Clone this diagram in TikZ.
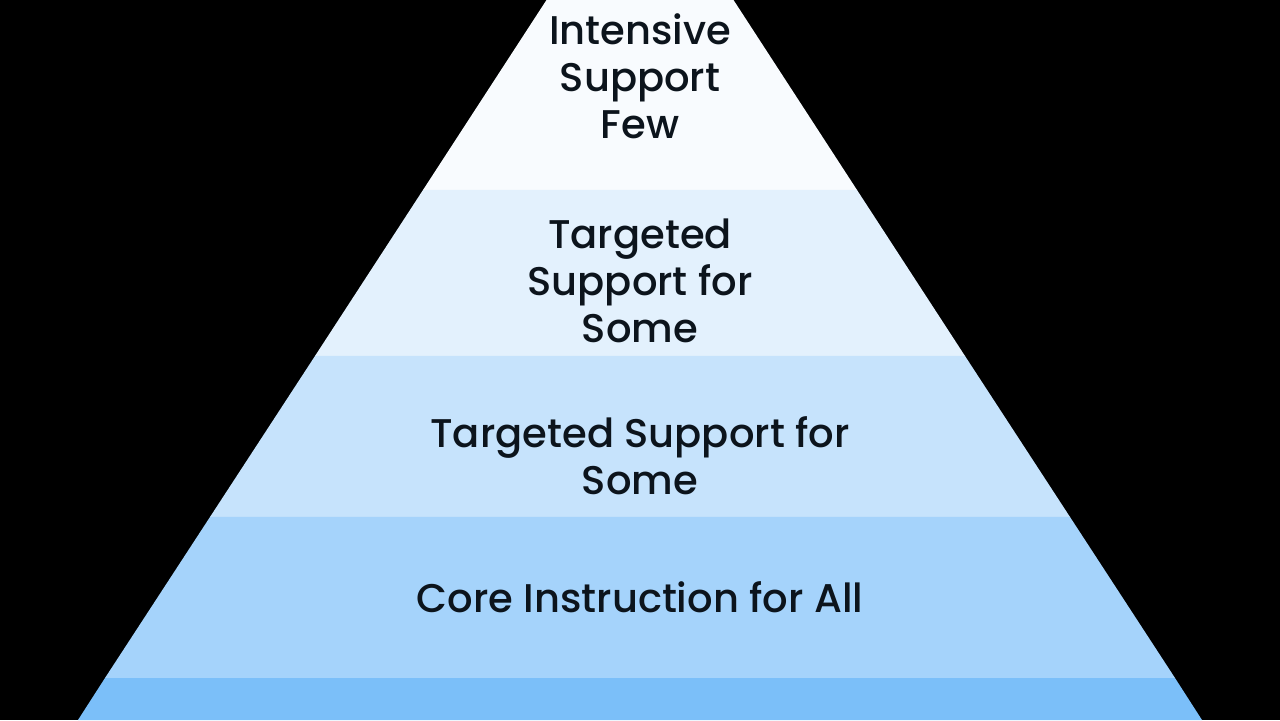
\documentclass[tikz,border=0pt]{standalone}
\usepackage{xcolor}
\usepackage{fontspec}
\setmainfont{Poppins Medium}
\definecolor{tierone}{HTML}{F8FBFE}
\definecolor{tiertwo}{HTML}{E3F1FD}
\definecolor{tierthree}{HTML}{C6E3FC}
\definecolor{tierfour}{HTML}{A5D3FB}
\definecolor{tierfive}{HTML}{7BBFF9}
\definecolor{tiertext}{HTML}{0C141C}
\tikzstyle{tierlabel} = [text=tiertext, align=center, inner sep=0pt, font=\fontsize{22.8}{26.8}\selectfont]

\begin{document}
\begin{tikzpicture}
        \useasboundingbox (0,0) rectangle (25.6,14.4);
        \fill[black] (0,0) rectangle (25.6,14.4);

        % Tiers
        \fill[tierone] (10.93,14.4) -- (14.67,14.4) -- (17.14,10.6) -- (8.46,10.6) -- cycle;
        \fill[tiertwo] (8.46,10.6) -- (17.14,10.6) -- (19.30,7.28) -- (6.30,7.28) -- cycle;
        \fill[tierthree] (6.30,7.28) -- (19.30,7.28) -- (21.40,4.06) -- (4.20,4.06) -- cycle;
        \fill[tierfour] (4.20,4.06) -- (21.40,4.06) -- (23.50,0.84) -- (2.10,0.84) -- cycle;
        \fill[tierfive] (2.10,0.84) -- (23.50,0.84) -- (24.04,0) -- (1.56,0) -- cycle;

        % Labels
        \node[tierlabel] (intensive) at (12.8,12.88) {Intensive\\Support\\Few};
        \node[tierlabel] (targetedtop) at (12.8,8.78) {Targeted\\Support for\\Some};
        \node[tierlabel] (targetedlow) at (12.8,5.28) {Targeted Support for\\Some};
        \node[tierlabel] (core) at (12.8,2.46) {Core Instruction for All};
\end{tikzpicture}
\end{document}
